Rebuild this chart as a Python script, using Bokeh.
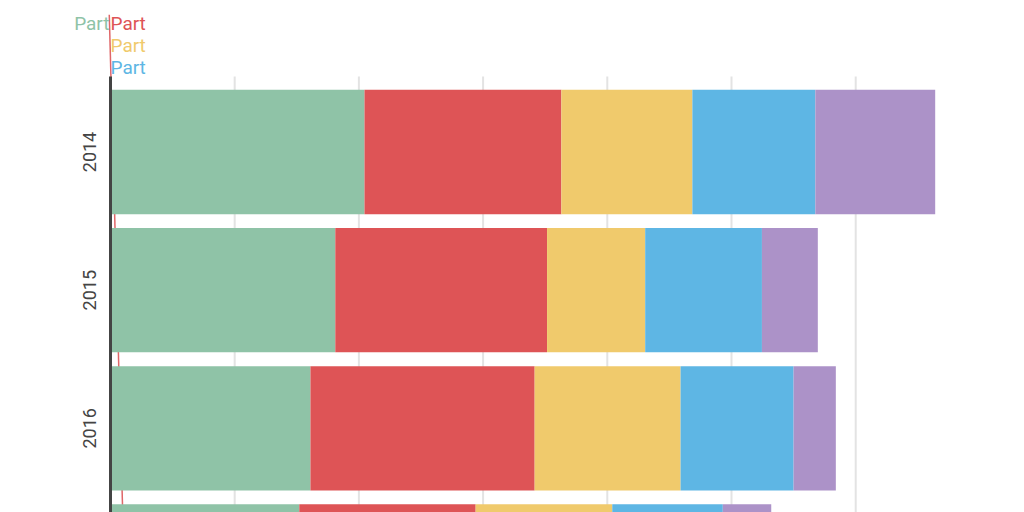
import numpy as np
from bokeh.plotting import figure
from bokeh.models import ColumnDataSource, Range1d, FixedTicker, Label, Slope
from bokeh.embed import file_html
from bokeh.resources import INLINE

# ---- data ----
years = ["2014", "2015", "2016", "2017"]
part_green = [40.9, 36.2, 32.2, 30.4]
part_red = [31.7, 34.1, 36.1, 28.4]
part_yellow = [21.1, 15.8, 23.5, 22.0]
part_blue = [19.8, 18.8, 18.2, 17.8]
part_purple = [19.3, 9.0, 6.8, 7.8]
trend_red = [0.4, 1.0, 1.6, 2.2]
grid_ticks = [20, 40, 60, 80, 100, 120]
legend_labels = ["Part", "Part", "Part", "Part"]

colors = ["#8FC3A7", "#DE5456", "#F0CA6C", "#5EB6E4", "#AC92C8"]
names = ["green", "red", "yellow", "blue", "purple"]

pos = list(range(len(years)))
source = ColumnDataSource(dict(y=pos, green=part_green, red=part_red,
                               yellow=part_yellow, blue=part_blue,
                               purple=part_purple))

W, H = 1024, 512
p = figure(width=W, height=H, output_backend="svg", toolbar_location=None,
           x_axis_location=None,
           x_range=Range1d(-8.05, 142.35),
           y_range=Range1d(2.609, -0.995),
           min_border_left=60, min_border_right=30,
           min_border_top=14, min_border_bottom=0)
p.outline_line_color = None
p.background_fill_color = "white"
p.xgrid.visible = False
p.ygrid.visible = False

axis_top = -0.547
# vertical grid lines (only within the plot body)
p.segment(x0=grid_ticks, x1=grid_ticks, y0=[axis_top] * len(grid_ticks),
          y1=[5] * len(grid_ticks), line_color="#e3e3e3", line_width=2)

# red trend line (behind bars)
grad = (pos[-1] - pos[0]) / (trend_red[-1] - trend_red[0])
icpt = pos[0] - grad * trend_red[0]
sl = Slope(gradient=grad, y_intercept=icpt, line_color="#E06668",
           line_width=1.5, level="underlay")
p.add_layout(sl)

p.hbar_stack(names, y="y", height=0.9, color=colors, source=source,
             line_color=None)

ax = p.yaxis[0]
ax.fixed_location = 0
ax.ticker = FixedTicker(ticks=pos)
ax.major_label_overrides = {i: y for i, y in zip(pos, years)}
ax.major_label_orientation = "vertical"
ax.major_tick_line_color = None
ax.minor_tick_line_color = None
ax.axis_line_color = "#444444"
ax.axis_line_width = 3
ax.bounds = (axis_top, 10)
ax.major_label_text_font = "Roboto"
ax.major_label_text_font_size = "18px"
ax.major_label_text_color = "#444444"
ax.major_label_standoff = 8

# legend-like labels
lab_y = [-0.928, -0.928, -0.768, -0.609]
lab_align = ["right", "left", "left", "left"]
lab_off = [-1, 0, 0, 0]
for txt, c, yy, al, off in zip(legend_labels, colors[:4], lab_y, lab_align, lab_off):
    p.add_layout(Label(x=0, y=yy, text=txt, text_color=c, text_align=al,
                       x_offset=off, text_baseline="alphabetic",
                       text_font="Roboto", text_font_size="19px"))

open("out.html", "w").write(file_html(p, INLINE))
